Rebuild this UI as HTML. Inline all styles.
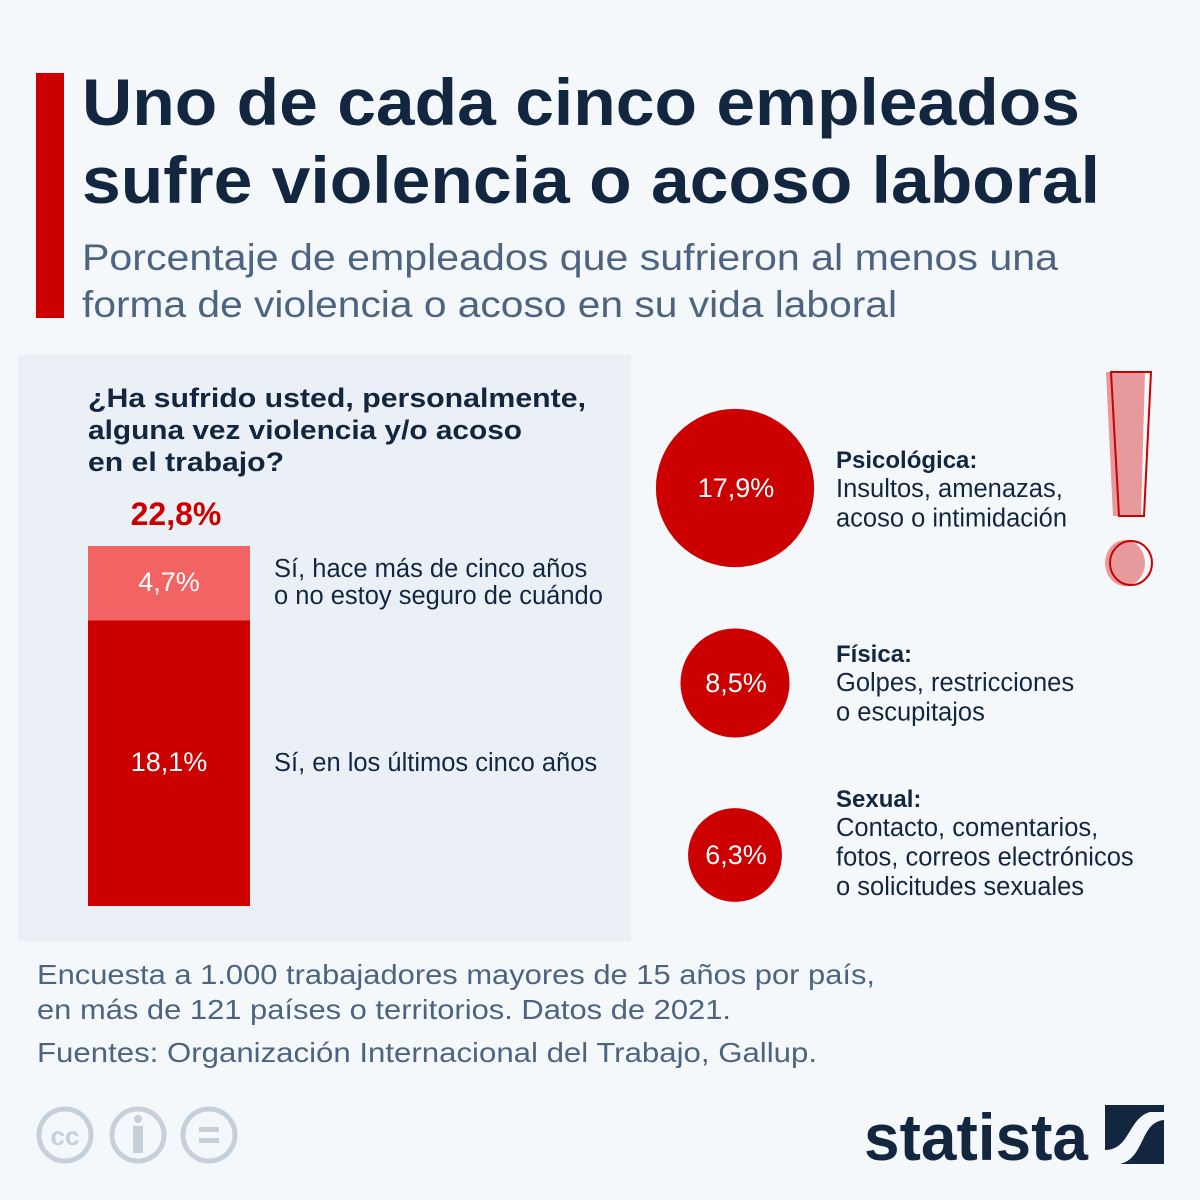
<!DOCTYPE html>
<html><head><meta charset="utf-8">
<style>
html,body{margin:0;padding:0;background:#f5f8fb;}
svg{display:block;font-family:"Liberation Sans",sans-serif;}
</style></head>
<body>
<svg id="chart" width="1200" height="1200" viewBox="0 0 1200 1200">
  <rect x="0" y="0" width="1200" height="1200" fill="#f5f8fb"/>
  <rect x="36" y="73" width="28" height="245" fill="#cc0000"/>
  <g fill="#13263f" font-weight="bold" font-size="66">
    <text x="82" y="125" textLength="998" lengthAdjust="spacingAndGlyphs">Uno de cada cinco empleados</text>
    <text x="82" y="203" textLength="1018" lengthAdjust="spacingAndGlyphs">sufre violencia o acoso laboral</text>
  </g>
  <g fill="#4d6480" font-size="37">
    <text x="82" y="270" textLength="976" lengthAdjust="spacingAndGlyphs">Porcentaje de empleados que sufrieron al menos una</text>
    <text x="82" y="317" textLength="815" lengthAdjust="spacingAndGlyphs">forma de violencia o acoso en su vida laboral</text>
  </g>
  <rect x="18" y="355" width="613" height="586" fill="#ebf0f7"/>
  <g fill="#13263f" font-weight="bold" font-size="27">
    <text x="88" y="407" textLength="498" lengthAdjust="spacingAndGlyphs">¿Ha sufrido usted, personalmente,</text>
    <text x="88" y="439" textLength="434" lengthAdjust="spacingAndGlyphs">alguna vez violencia y/o acoso</text>
    <text x="88" y="471" textLength="196" lengthAdjust="spacingAndGlyphs">en el trabajo?</text>
  </g>
  <text x="176" y="525" text-anchor="middle" fill="#cc0000" font-weight="bold" font-size="32">22,8%</text>
  <g id="bar"></g>
  <g id="circles"></g>
  <g>
    <polygon points="1106,372 1145,372 1141,516 1113,516" fill="#e69a9c"/>
    <polygon points="1111,372 1151,372 1144,516 1119,516" fill="none" stroke="#cc0000" stroke-width="2"/>
    <ellipse cx="1125" cy="563" rx="20" ry="23" fill="#e69a9c"/>
    <ellipse cx="1131" cy="563" rx="21" ry="22" fill="none" stroke="#cc0000" stroke-width="2"/>
  </g>
  <g fill="#4d6480" font-size="28">
    <text x="37" y="984" textLength="838" lengthAdjust="spacingAndGlyphs">Encuesta a 1.000 trabajadores mayores de 15 años por país,</text>
    <text x="37" y="1019" textLength="694" lengthAdjust="spacingAndGlyphs">en más de 121 países o territorios. Datos de 2021.</text>
    <text x="37" y="1062" textLength="780" lengthAdjust="spacingAndGlyphs">Fuentes: Organización Internacional del Trabajo, Gallup.</text>
  </g>
  <g fill="none" stroke="#c5d0da" stroke-width="5">
    <circle cx="65" cy="1135" r="26"/>
    <text x="65" y="1145" text-anchor="middle" font-size="26" font-weight="bold" fill="#c5d0da" stroke="none">cc</text>
    <circle cx="138" cy="1135" r="26"/>
    <circle cx="138" cy="1119" r="4" fill="#c5d0da" stroke="none"/>
    <rect x="133" y="1126" width="10" height="27" fill="#c5d0da" stroke="none"/>
    <circle cx="209" cy="1135" r="26"/>
    <rect x="199" y="1127" width="20" height="5" fill="#c5d0da" stroke="none"/>
    <rect x="199" y="1138" width="20" height="5" fill="#c5d0da" stroke="none"/>
  </g>
  <g>
    <text x="864" y="1160" fill="#13263f" font-weight="bold" font-size="66" textLength="224" lengthAdjust="spacingAndGlyphs">statista</text>
    <rect x="1105" y="1105" width="59" height="59" fill="#13263f"/>
    <path d="M1105,1150 C1130,1150 1128,1118 1150,1112 L1164,1112 L1164,1120 C1140,1122 1145,1158 1120,1164 L1105,1164 Z" fill="#f5f8fb"/>
  </g>
</svg>
<script>
const segLabels = ["Sí, en los últimos cinco años", "Sí, hace más de cinco años|o no estoy seguro de cuándo"];
const segValues = [18.1, 4.7];
const segTexts = ["18,1%", "4,7%"];
const bubbleValues = [17.9, 8.5, 6.3];
const bubbleTexts = ["17,9%", "8,5%", "6,3%"];
const bubbleTitles = ["Psicológica:", "Física:", "Sexual:"];
const bubbleDescs = ["Insultos, amenazas,|acoso o intimidación", "Golpes, restricciones|o escupitajos", "Contacto, comentarios,|fotos, correos electrónicos|o solicitudes sexuales"];

const NS = "http://www.w3.org/2000/svg";
function mk(tag, attrs, parent){const e=document.createElementNS(NS,tag);for(const k in attrs)e.setAttribute(k,attrs[k]);parent.appendChild(e);return e;}
const yBase = 906, pxPer = 360/22.8;
function yScale(v){return yBase - v*pxPer;}
const bar = document.getElementById("bar");
const segColors = ["#cc0000", "#f26464"];
let acc = 0;
segValues.forEach((v,i)=>{
  const y0 = yScale(acc+v), y1 = yScale(acc);
  const r = mk("rect",{x:88,y:y0,width:162,height:y1-y0,fill:segColors[i]},bar);
  
  
  const t = mk("text",{x:169,y:(y0+y1)/2+8,"text-anchor":"middle",fill:"#fff","font-size":27},bar);
  t.textContent = segTexts[i];
  
  
  const lines = segLabels[i].split("|");
  const cy = (y0+y1)/2 + 8 - (lines.length-1)*14;
  lines.forEach((ln,j)=>{
    const l = mk("text",{x:274,y:cy+j*27,fill:"#13263f","font-size":25.5},bar);
    l.textContent = ln;
    
    
  });
  acc += v;
});
const circ = document.getElementById("circles");
const centersY = [488, 683, 855];
const titleY = [468, 662, 807];
function rScale(v){return 18.7*Math.sqrt(v);}
bubbleValues.forEach((v,i)=>{
  const cy = centersY[i];
  const c = mk("circle",{cx:735,cy:cy,r:rScale(v),fill:"#cc0000"},circ);
  
  
  const t = mk("text",{x:736,y:cy+9,"text-anchor":"middle",fill:"#fff","font-size":27},circ);
  t.textContent = bubbleTexts[i];
  
  
  const lines = bubbleDescs[i].split("|");
  const top = titleY[i];
  const h = mk("text",{x:836,y:top,fill:"#13263f","font-size":24,"font-weight":"bold"},circ);
  h.textContent = bubbleTitles[i];
  
  
  lines.forEach((ln,j)=>{
    const l = mk("text",{x:836,y:top+29+j*29.5,fill:"#13263f","font-size":25.5},circ);
    l.textContent = ln;
    
    
  });
});
</script>
</body></html>
